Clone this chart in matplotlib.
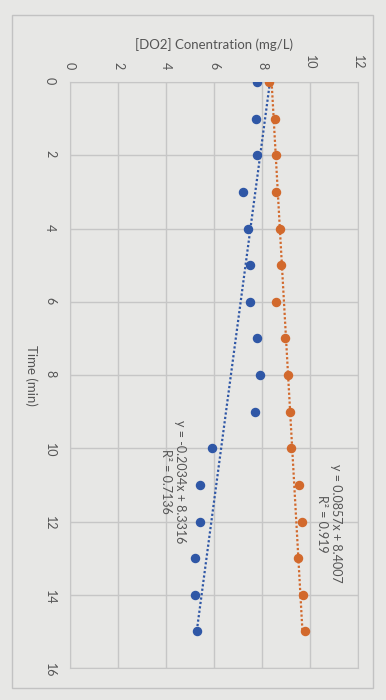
import matplotlib
matplotlib.use('Agg')
import matplotlib.pyplot as plt
import numpy as np
from matplotlib.patches import Rectangle

plt.rcParams['font.family'] = ['Lato', 'DejaVu Sans']

time_min = [0, 1, 2, 3, 4, 5, 6, 7, 8, 9, 10, 11, 12, 13, 14, 15]
do2_blue = [7.8, 7.75, 7.8, 7.2, 7.4, 7.5, 7.5, 7.8, 7.9, 7.7, 5.9, 5.4, 5.4, 5.2, 5.2, 5.3]
do2_orange = [8.3, 8.55, 8.6, 8.6, 8.75, 8.8, 8.6, 8.95, 9.1, 9.15, 9.2, 9.55, 9.65, 9.5, 9.7, 9.8]
blue_fit = (-0.2034, 8.3316)
orange_fit = (0.0857, 8.4007)
blue_eq = "y = -0.2034x + 8.3316\nR² = 0.7136"
orange_eq = "y = 0.0857x + 8.4007\nR² = 0.919"
conc_ticks = [0, 2, 4, 6, 8, 10, 12]
time_ticks = [0, 2, 4, 6, 8, 10, 12, 14, 16]

bg = '#e7e7e5'
grid_c = '#c6c6c6'
txt_c = '#555555'
blue = '#2f57a6'
orange = '#d2692c'

W, H = 386, 700
fig = plt.figure(figsize=(W / 100, H / 100), dpi=100)
fig.patch.set_facecolor(bg)
fig.patches.append(Rectangle((12 / W, 1 - 688 / H), (373 - 12) / W, (688 - 15) / H,
                             transform=fig.transFigure, fill=False, ec='#c2c2c2', lw=1))

ax = fig.add_axes([70 / W, 1 - 668 / H, 288 / W, 586 / H])
ax.set_facecolor(bg)

# chart is photographed rotated 90 deg clockwise: time runs down, concentration runs right
t = np.array(time_min)
ax.plot(blue_fit[0] * t + blue_fit[1], t, color=blue, lw=1.6, ls=(0, (1, 1)), zorder=2)
ax.plot(orange_fit[0] * t + orange_fit[1], t, color=orange, lw=1.6, ls=(0, (1, 1)), zorder=2)
ax.plot(do2_blue, time_min, 'o', color=blue, ms=5.8, zorder=3)
ax.plot(do2_orange, time_min, 'o', color=orange, ms=5.8, zorder=3)

ax.set_xlim(0, 12)
ax.set_ylim(16, 0)
ax.set_xticks(conc_ticks)
ax.set_yticks(time_ticks)
ax.xaxis.tick_top()
ax.xaxis.set_label_position('top')
ax.grid(True, color=grid_c, lw=1)
ax.set_axisbelow(True)
for s in ax.spines.values():
    s.set_color(grid_c)
ax.tick_params(length=0, labelsize=9, labelcolor=txt_c)
ax.tick_params(axis='x', pad=9)
ax.tick_params(axis='y', pad=10)
for lbl in ax.get_xticklabels() + ax.get_yticklabels():
    lbl.set_rotation(-90)

ax.set_xlabel('[DO2] Conentration (mg/L)', fontsize=9.5, color=txt_c, labelpad=4)
ax.set_ylabel('Time (min)', fontsize=9.5, color=txt_c, rotation=-90, labelpad=14)

ax.text(4.3, 10.9, blue_eq, rotation=-90, ha='center', va='center',
        multialignment='center', fontsize=9, color=txt_c)
ax.text(10.8, 12.05, orange_eq, rotation=-90, ha='center', va='center',
        multialignment='center', fontsize=9, color=txt_c)

fig.savefig('out.png', dpi=100, facecolor=bg)
